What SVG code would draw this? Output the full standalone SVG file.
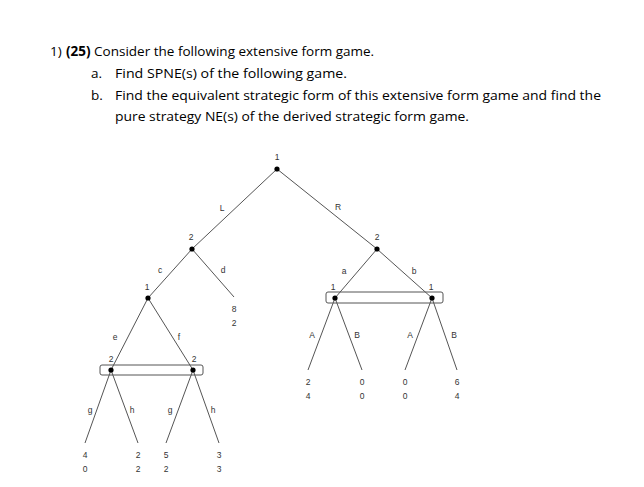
<svg xmlns="http://www.w3.org/2000/svg" width="644" height="487" viewBox="0 0 644 487">
<style>
.h{font-family:"Open Sans","Liberation Sans",sans-serif;font-size:13.5px;fill:#000}
.t{font-family:"Liberation Sans",Arial,sans-serif;font-size:8.5px;fill:#333;text-anchor:middle}
.e{stroke:#555;stroke-width:1;fill:none}
.n{fill:#000}
.box{fill:none;stroke:#555;stroke-width:1}
</style>
<rect width="644" height="487" fill="#fff"/>
<g id="header">
<text class="h" x="50" y="56"><tspan>1)</tspan><tspan x="66" font-weight="bold">(25)</tspan><tspan> Consider the following extensive form game.</tspan></text>
<text class="h" x="91" y="78">a.</text>
<text class="h" x="115" y="78" textLength="232" lengthAdjust="spacingAndGlyphs">Find SPNE(s) of the following game.</text>
<text class="h" x="91" y="100">b.</text>
<text class="h" x="115" y="100" textLength="486" lengthAdjust="spacingAndGlyphs">Find the equivalent strategic form of this extensive form game and find the</text>
<text class="h" x="115" y="121" textLength="354" lengthAdjust="spacingAndGlyphs">pure strategy NE(s) of the derived strategic form game.</text>
</g>
<g id="connectors">
<line class="e" x1="277" y1="169" x2="192" y2="249"/>
<line class="e" x1="277" y1="169" x2="377" y2="249"/>
<line class="e" x1="192" y1="249" x2="148" y2="298"/>
<line class="e" x1="192" y1="249" x2="234" y2="297"/>
<line class="e" x1="148" y1="298" x2="111" y2="370"/>
<line class="e" x1="148" y1="298" x2="193" y2="370"/>
<line class="e" x1="111" y1="370" x2="85" y2="443"/>
<line class="e" x1="111" y1="370" x2="138" y2="443"/>
<line class="e" x1="193" y1="370" x2="166" y2="443"/>
<line class="e" x1="193" y1="370" x2="219" y2="443"/>
<line class="e" x1="377" y1="249" x2="335" y2="298"/>
<line class="e" x1="377" y1="249" x2="432" y2="298"/>
<line class="e" x1="335" y1="298" x2="308" y2="370"/>
<line class="e" x1="335" y1="298" x2="362" y2="370"/>
<line class="e" x1="432" y1="298" x2="405" y2="370"/>
<line class="e" x1="432" y1="298" x2="457" y2="370"/>
<text class="t" x="222" y="211">L</text>
<text class="t" x="338" y="210">R</text>
<text class="t" x="160" y="273">c</text>
<text class="t" x="223" y="273">d</text>
<text class="t" x="115" y="340">e</text>
<text class="t" x="179" y="340">f</text>
<text class="t" x="90" y="413">g</text>
<text class="t" x="132" y="413">h</text>
<text class="t" x="170" y="413">g</text>
<text class="t" x="213" y="413">h</text>
<text class="t" x="344" y="274">a</text>
<text class="t" x="414" y="274">b</text>
<text class="t" x="312" y="338">A</text>
<text class="t" x="357" y="338">B</text>
<text class="t" x="410" y="338">A</text>
<text class="t" x="454" y="338">B</text>
</g>
<g id="n_root"><circle class="n" cx="277" cy="169" r="2.6"/><text class="t" x="277" y="160">1</text></g>
<g id="n_L"><circle class="n" cx="192" cy="249" r="2.6"/><text class="t" x="191" y="240">2</text></g>
<g id="n_c"><circle class="n" cx="148" cy="298" r="2.6"/><text class="t" x="147" y="290">1</text></g>
<g id="infoset_left"><rect class="box" x="100" y="365" width="103" height="10" rx="2"/>
<circle class="n" cx="111" cy="370" r="2.6"/><text class="t" x="111" y="362">2</text>
<circle class="n" cx="193" cy="370" r="2.6"/><text class="t" x="194" y="362">2</text></g>
<g id="n_R"><circle class="n" cx="377" cy="249" r="2.6"/><text class="t" x="377" y="240">2</text></g>
<g id="infoset_right"><rect class="box" x="326" y="292" width="117" height="11" rx="2"/>
<circle class="n" cx="335" cy="298" r="2.6"/><text class="t" x="333" y="290">1</text>
<circle class="n" cx="432" cy="298" r="2.6"/><text class="t" x="431" y="290">1</text></g>
<g id="payoffs">
<text class="t" x="234" y="312">8</text><text class="t" x="234" y="326">2</text>
<text class="t" x="85" y="458">4</text><text class="t" x="85" y="472">0</text>
<text class="t" x="138" y="458">2</text><text class="t" x="138" y="472">2</text>
<text class="t" x="166" y="458">5</text><text class="t" x="166" y="472">2</text>
<text class="t" x="219" y="458">3</text><text class="t" x="219" y="472">3</text>
<text class="t" x="308" y="385">2</text><text class="t" x="308" y="399">4</text>
<text class="t" x="362" y="385">0</text><text class="t" x="362" y="399">0</text>
<text class="t" x="405" y="385">0</text><text class="t" x="405" y="399">0</text>
<text class="t" x="457" y="385">6</text><text class="t" x="457" y="399">4</text>
</g>
</svg>
